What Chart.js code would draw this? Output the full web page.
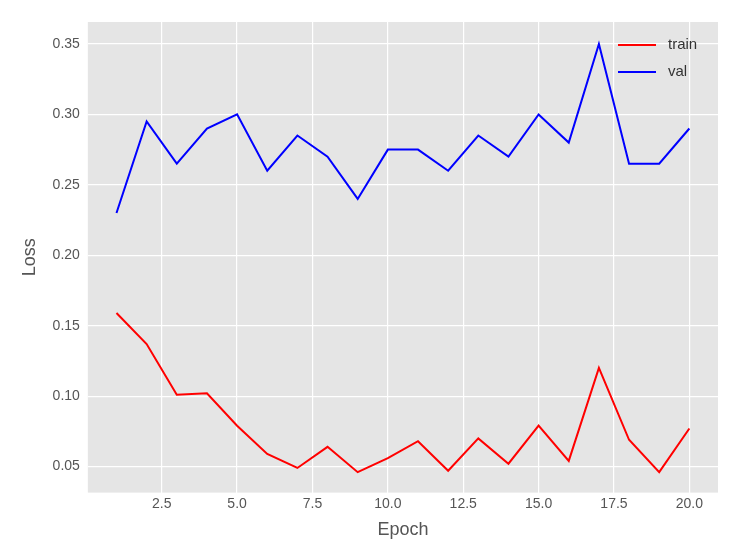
<!DOCTYPE html>
<html>
<head>
<script src="https://cdn.jsdelivr.net/npm/chart.js@4"></script>
<style>body{margin:0;background:#fff}</style>
</head>
<body>
<canvas id="loss" width="731" height="551"></canvas>
<script>
const epochs = [1, 2, 3, 4, 5, 6, 7, 8, 9, 10, 11, 12, 13, 14, 15, 16, 17, 18, 19, 20];
const trainLoss = [0.159, 0.137, 0.101, 0.102, 0.079, 0.059, 0.049, 0.064, 0.046, 0.056, 0.068, 0.047, 0.070, 0.052, 0.079, 0.054, 0.120, 0.069, 0.046, 0.077];
const valLoss = [0.23, 0.295, 0.265, 0.29, 0.30, 0.26, 0.285, 0.27, 0.24, 0.275, 0.275, 0.26, 0.285, 0.27, 0.30, 0.28, 0.35, 0.265, 0.265, 0.29];
const xTicks = [2.5, 5, 7.5, 10, 12.5, 15, 17.5, 20];
const yTicks = [0.05, 0.10, 0.15, 0.20, 0.25, 0.30, 0.35];

const bgPlugin = {
  id: 'bg',
  beforeDraw(chart) {
    const a = chart.chartArea, ctx = chart.ctx;
    ctx.save();
    ctx.fillStyle = '#e5e5e5';
    ctx.fillRect(a.left, a.top, a.right - a.left, a.bottom - a.top);
    ctx.restore();
  }
};

const legendPlugin = {
  id: 'innerLegend',
  afterDraw(chart) {
    const a = chart.chartArea, ctx = chart.ctx;
    ctx.save();
    ctx.font = '15px "Liberation Sans", Arial, sans-serif';
    ctx.textBaseline = 'middle';
    chart.data.datasets.forEach((ds, i) => {
      const y = a.top + 23 + i * 27;
      ctx.strokeStyle = ds.borderColor;
      ctx.lineWidth = 2;
      ctx.beginPath();
      ctx.moveTo(a.right - 100, y);
      ctx.lineTo(a.right - 62, y);
      ctx.stroke();
      ctx.fillStyle = '#333';
      ctx.fillText(ds.label, a.right - 50, y);
    });
    ctx.restore();
  }
};

new Chart(document.querySelector('#loss'), {
  type: 'line',
  data: {
    labels: epochs,
    datasets: [{
      label: 'train',
      data: epochs.map((e, i) => ({ x: e, y: trainLoss[i] })),
      borderColor: '#ff0000',
      borderWidth: 2,
      pointRadius: 0,
      tension: 0
    }, {
      label: 'val',
      data: epochs.map((e, i) => ({ x: e, y: valLoss[i] })),
      borderColor: '#0000ff',
      borderWidth: 2,
      pointRadius: 0,
      tension: 0
    }]
  },
  options: {
    responsive: false,
    animation: false,
    layout: { padding: { top: 22, right: 13, left: 15, bottom: 6 } },
    plugins: { legend: { display: false }, tooltip: { enabled: false } },
    scales: {
      x: {
        type: 'linear',
        min: 0.05,
        max: 20.95,
        afterBuildTicks(s) { s.ticks = xTicks.map(v => ({ value: v })); },
        ticks: { color: '#555', font: { size: 14 }, callback: v => v.toFixed(1) },
        grid: { color: '#ffffff', lineWidth: 1.2, drawTicks: false },
        border: { display: false },
        title: { display: true, text: 'Epoch', color: '#555', font: { size: 18 } }
      },
      y: {
        min: 0.0315,
        max: 0.3656,
        afterBuildTicks(s) { s.ticks = yTicks.map(v => ({ value: v })); },
        ticks: { color: '#555', font: { size: 14 }, padding: 8, callback: v => v.toFixed(2) },
        grid: { color: '#ffffff', lineWidth: 1.2, drawTicks: false },
        border: { display: false },
        title: { display: true, text: 'Loss', color: '#555', font: { size: 18 } }
      }
    }
  },
  plugins: [bgPlugin, legendPlugin]
});
</script>
</body>
</html>
